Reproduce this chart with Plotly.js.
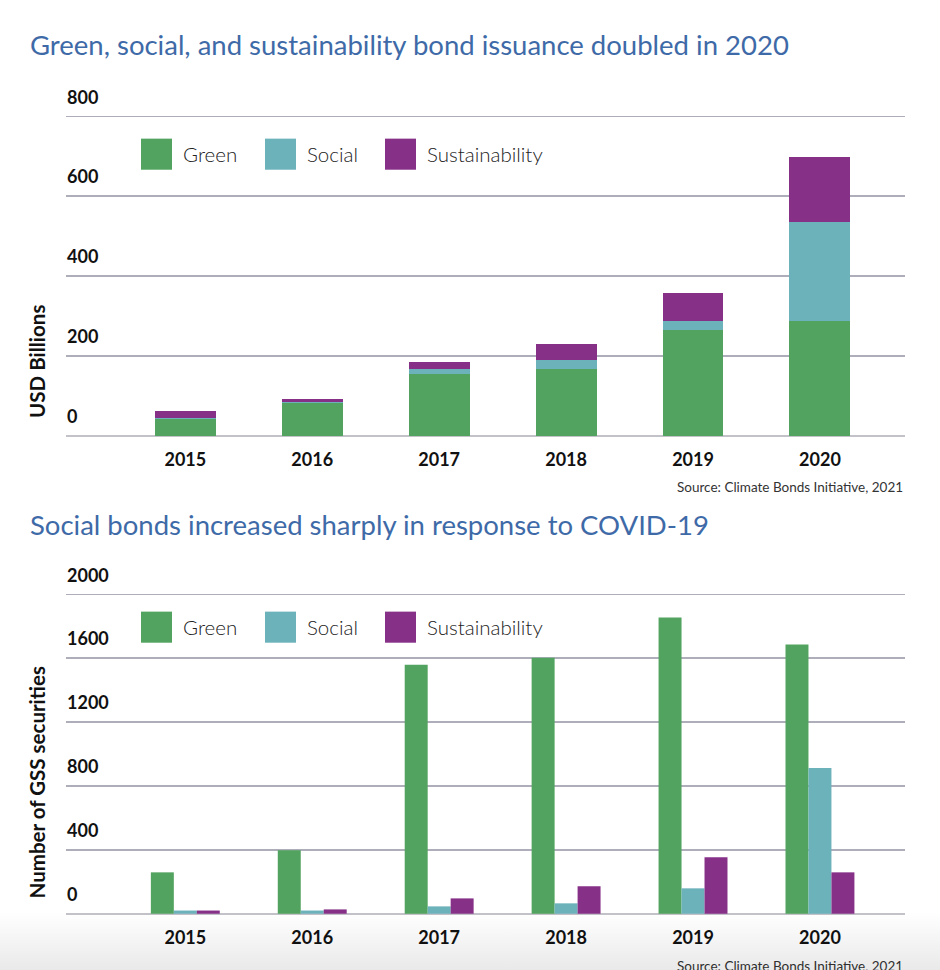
<!DOCTYPE html>
<html>
<head>
<meta charset="utf-8">
<script src="https://cdn.plot.ly/plotly-3.0.1.min.js"></script>
<style>
  html, body { margin: 0; padding: 0; background: #fff; width: 940px; height: 970px; overflow: hidden; }
  #issuance { position: absolute; left: 0; top: 0; width: 940px; height: 500px; }
  #securities { position: absolute; left: 0; top: 478px; width: 940px; height: 492px; }
  #fade { position: absolute; left: 0; top: 912px; width: 940px; height: 58px; pointer-events: none;
          background: linear-gradient(to bottom, rgba(0,0,0,0), rgba(0,0,0,0.085)); }
</style>
</head>
<body>
<div id="issuance"></div>
<div id="securities"></div>
<div id="fade"></div>
<script>
// ---- data ----
const years = ['2015', '2016', '2017', '2018', '2019', '2020'];
const seriesNames = ['Green', 'Social', 'Sustainability'];
const seriesColors = ['#52a35f', '#6bb2bb', '#873088'];

// Issuance, USD billions
const usdGreen = [41, 82, 154, 166, 264, 287];
const usdSocial = [3, 2, 13, 23, 23, 249];
const usdSustainability = [17, 7, 17, 40, 70, 163];
const usdTicks = [0, 200, 400, 600, 800];

// Number of GSS securities
const countGreen = [259, 398, 1559, 1603, 1855, 1685];
const countSocial = [20, 20, 46, 65, 159, 913];
const countSustainability = [20, 27, 96, 172, 354, 259];
const countTicks = [0, 400, 800, 1200, 1600, 2000];

const sourceText = 'Source: Climate Bonds Initiative, 2021';

// ---- shared geometry & styling ----
const FONT = 'Lato, "Open Sans", "Noto Sans", sans-serif';
const PAD = 0.004;                        // small range padding so the edge gridlines stay visible
const GRID_TOP = 116.7, GRID_H = 318.6;   // pixel span between the top and zero gridlines
const PLOT_L = 66, PLOT_R = 905;
const PLOT_TOP = GRID_TOP - GRID_H * PAD, PLOT_H = GRID_H * (1 + 2 * PAD);
const PLOT_W = PLOT_R - PLOT_L;
const px2x = p => (p - PLOT_L) / PLOT_W;
const px2y = p => (PLOT_TOP + PLOT_H - p) / PLOT_H;

function makeTraces(values, barWidth) {
  return values.map((v, i) => ({
    type: 'bar',
    name: seriesNames[i],
    x: years,
    y: v,
    marker: { color: seriesColors[i], line: { width: 0 } },
    width: barWidth,
    showlegend: false,
    hoverinfo: 'x+y+name'
  }));
}

function makeLayout(cfg) {
  const shapes = [], annotations = [];
  const legendX = [141, 265, 385];
  seriesNames.forEach((name, i) => {
    shapes.push({
      type: 'rect', xref: 'paper', yref: 'paper', layer: 'above',
      x0: px2x(legendX[i]), x1: px2x(legendX[i] + 31),
      y0: px2y(cfg.legendTop), y1: px2y(cfg.legendTop + 31),
      fillcolor: seriesColors[i], line: { width: 0 }
    });
    annotations.push({
      xref: 'paper', yref: 'paper', showarrow: false,
      x: px2x(legendX[i] + 40), y: px2y(cfg.legendTop + 15.5),
      xanchor: 'left', yanchor: 'middle',
      text: name,
      font: { family: FONT, size: 20.5, color: '#222', weight: 300 }
    });
  });
  // rotated axis title, bottom-aligned with the zero label
  annotations.push({
    xref: 'paper', yref: 'paper', showarrow: false,
    x: px2x(37), y: px2y(cfg.axisTitleBottom),
    xanchor: 'center', yanchor: 'bottom', textangle: -90,
    text: cfg.axisTitle,
    font: { family: FONT, size: 20.5, color: '#111', weight: 700 }
  });
  annotations.push({
    xref: 'paper', yref: 'paper', showarrow: false,
    x: px2x(905), y: px2y(cfg.sourceY),
    xanchor: 'right', yanchor: 'middle',
    text: sourceText,
    font: { family: FONT, size: 13.5, color: '#333', weight: 400 }
  });

  const yMin = cfg.yTicks[0], yMax = cfg.yTicks[cfg.yTicks.length - 1];
  const span = yMax - yMin;

  return {
    width: 940, height: cfg.height,
    margin: { l: PLOT_L, r: 940 - PLOT_R, t: PLOT_TOP, b: cfg.height - PLOT_TOP - PLOT_H, pad: 0 },
    paper_bgcolor: 'rgba(0,0,0,0)', plot_bgcolor: 'rgba(0,0,0,0)',
    title: {
      text: cfg.title, xref: 'container', yref: 'container',
      x: 30 / 940, xanchor: 'left', y: 1 - cfg.titleY / cfg.height, yanchor: 'middle',
      font: { family: FONT, size: 27.5, color: '#3e6aa8', weight: 400 }
    },
    barmode: cfg.barmode,
    bargap: cfg.bargap, bargroupgap: 0,
    showlegend: false,
    xaxis: {
      type: 'category', range: [-0.94, 5.67],
      showgrid: false, zeroline: false, showline: false, ticks: '',
      tickfont: { family: FONT, size: 18, color: '#111', weight: 700 },
      ticklabelstandoff: 10
    },
    yaxis: {
      range: [yMin - span * PAD, yMax + span * PAD],
      tickmode: 'array', tickvals: cfg.yTicks, ticktext: cfg.yTicks.map(String),
      showgrid: true, gridcolor: '#aeaeba', gridwidth: 1.5,
      zeroline: true, zerolinecolor: '#c2c2c8', zerolinewidth: 2,
      showline: false, ticks: '',
      ticklabelposition: 'inside', ticklabeloverflow: 'allow',
      ticklabelshift: -19, ticklabelstandoff: -2,
      tickfont: { family: FONT, size: 18, color: '#111', weight: 700 }
    },
    shapes: shapes,
    annotations: annotations
  };
}

const config = { staticPlot: true, displayModeBar: false };

Plotly.newPlot('issuance',
  makeTraces([usdGreen, usdSocial, usdSustainability], 0.48),
  makeLayout({
    height: 500, title: 'Green, social, and sustainability bond issuance doubled in 2020', titleY: 45,
    barmode: 'stack', bargap: 0.52, yTicks: usdTicks,
    legendTop: 139, axisTitle: 'USD Billions', axisTitleBottom: 420, sourceY: 486
  }), config);

Plotly.newPlot('securities',
  makeTraces([countGreen, countSocial, countSustainability]),
  makeLayout({
    height: 492, title: 'Social bonds increased sharply in response to COVID-19', titleY: 47,
    barmode: 'group', bargap: 0.457, yTicks: countTicks,
    legendTop: 134, axisTitle: 'Number of GSS securities', axisTitleBottom: 422, sourceY: 487
  }), config);
</script>
</body>
</html>
